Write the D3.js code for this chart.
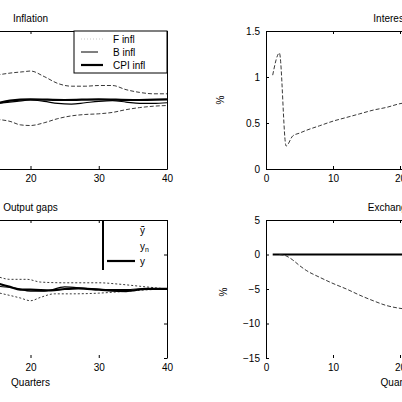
<!DOCTYPE html>
<html><head><meta charset="utf-8">
<script src="https://cdn.jsdelivr.net/npm/d3@7"></script>
<style>
html,body{margin:0;padding:0;background:#fff;}
svg{display:block;font-family:"Liberation Sans",Arial,sans-serif;}
</style></head>
<body>
<svg id="c" width="402" height="402"></svg>
<script>
// ---- Data ----
// Inflation panel
const inflT_F   = [15,17,19,20,22,24,26,28,30,32,34,36,38,40];
const inflF     = [0.36,0.39,0.41,0.42,0.34,0.24,0.20,0.20,0.21,0.21,0.15,0.11,0.09,0.09];
const inflT_X   = [15,17,18.5,20,22,24,26,28,30,32,34,36,38,40];
const inflX     = [-0.28,-0.31,-0.36,-0.37,-0.33,-0.27,-0.23,-0.21,-0.20,-0.18,-0.14,-0.11,-0.09,-0.08];
const inflT_B   = [15,18,20,22,24,26,28,30,32,34,36,38,40];
const inflB     = [-0.05,-0.02,0.0,-0.02,-0.05,-0.06,-0.04,-0.02,-0.01,-0.03,-0.05,-0.05,-0.04];
const inflT_C   = [15,17,20,25,30,35,40];
const inflC     = [-0.05,-0.01,0.01,0.0,0.01,0.0,0.01];
const inflLegend = ["F infl","B infl","CPI infl"];

// Interest rate panel
const rateT = [1,2,3,4,5,6,8,10,12,14,16,18,20,22];
const rate  = [1.02,1.26,0.25,0.36,0.39,0.42,0.47,0.52,0.56,0.60,0.64,0.67,0.71,0.73];
const rateYTicks = [0,0.5,1,1.5];

// Output gaps panel
const gapT_Y  = [15.5,17,18.5,20,23,25,27,30,34,37,40];
const gapY    = [0.07,0.03,-0.01,-0.01,-0.02,0,0.01,-0.01,-0.03,0,0];
const gapT_N  = [15,18,20,22,25,28,31,34,37,40];
const gapN    = [0.04,0.01,-0.03,-0.03,0.03,0.01,-0.01,-0.01,0.01,0.01];
const gapT_U  = [15.5,17,19.5,21.5,25,28,30,33,36,40];
const gapU    = [0.17,0.14,0.14,0.10,0.09,0.09,0.09,0.07,0.04,0];
const gapT_L  = [15.5,18.5,20,21.5,23.5,26,30,33,37.5,40];
const gapL    = [-0.06,-0.13,-0.17,-0.12,-0.07,-0.07,-0.06,-0.04,-0.01,0];
const gapYTicks = [-1,-0.5,0,0.5,1];

// Exchange rate panel
const exT_0 = [1,40];
const ex0   = [0,0];
const exT   = [2,3,4,5,6,8,10,12,14,16,18,20,22];
const ex    = [0,-0.2,-0.8,-1.6,-2.3,-3.3,-4.2,-5.0,-5.9,-6.7,-7.4,-7.8,-8.0];
const exYTicks = [-15,-10,-5,0,5];

const xTicks = [0,10,20,30,40];

// ---- Drawing ----
const W = 402;
const svg = d3.select("#c");
const zip = (t,v)=>t.map((d,i)=>[d,v[i]]);
let clipId = 0;
const fmt = d3.format("~g");

function panel(o){
  const x = d3.scaleLinear().domain([0,40]).range([o.x0,o.x1]);
  const y = d3.scaleLinear().domain(o.yd).range([o.y1,o.y0]);
  const g = svg.append("g");
  const id = "clip"+(clipId++);
  svg.append("clipPath").attr("id",id).append("rect")
    .attr("x",o.x0).attr("y",o.y0).attr("width",o.x1-o.x0).attr("height",o.y1-o.y0);
  const plot = g.append("g").attr("clip-path",`url(#${id})`);
  const line = d3.line().x(d=>x(d[0])).y(d=>y(d[1])).curve(d3.curveMonotoneX);
  o.series.forEach(s=>{
    plot.append("path").datum(zip(s.t,s.v))
      .attr("d",line).attr("fill","none")
      .attr("stroke",s.c||"#000").attr("stroke-width",s.w)
      .attr("stroke-dasharray",s.dash||null);
  });
  // only label ticks that fall (at least partly) inside the picture
  const visX = v => { const p = x(v); return p > -8 && p < W + 8; };
  const xFmt = v => visX(v) ? fmt(v) : "";
  const yFmt = v => (o.x0 > 20) ? fmt(v) : "";
  const yT = o.yTicks||[];
  const bottom = d3.axisBottom(x).tickValues(xTicks).tickSizeInner(-3).tickSizeOuter(0).tickPadding(6).tickFormat(xFmt);
  const top = d3.axisTop(x).tickValues(xTicks).tickSizeInner(-3).tickSizeOuter(0).tickFormat("");
  const left = d3.axisLeft(y).tickValues(yT).tickSizeInner(-3).tickSizeOuter(0).tickPadding(6).tickFormat(yFmt);
  const right = d3.axisRight(y).tickValues(yT).tickSizeInner(-3).tickSizeOuter(0).tickFormat("");
  const gb = g.append("g").attr("transform",`translate(0,${o.y1})`).call(bottom);
  const gt = g.append("g").attr("transform",`translate(0,${o.y0})`).call(top);
  const gl = g.append("g").attr("transform",`translate(${o.x0},0)`).call(left);
  const gr = g.append("g").attr("transform",`translate(${o.x1},0)`).call(right);
  if(o.noBottomLine) gb.select(".domain").remove();
  [gb,gt,gl,gr].forEach(a=>{
    a.selectAll("text").filter(function(){return this.textContent==="";}).remove();
    a.selectAll("text").attr("font-size",10).attr("fill","#000").attr("font-family","Liberation Sans, Arial, sans-serif");
    a.selectAll("line").attr("stroke","#000");
    a.select(".domain").attr("stroke","#000");
  });
  const cx = (o.x0+o.x1)/2;
  g.append("text").attr("x",cx).attr("y",o.y0-9).attr("text-anchor","middle")
    .attr("font-size",10).text(o.title);
  if(o.xlabel) g.append("text").attr("x",cx).attr("y",o.y1+28).attr("text-anchor","middle")
    .attr("font-size",10).text(o.xlabel);
  if(o.ylabel) g.append("text").attr("transform",`translate(${o.x0-42+(o.ylx||0)},${(o.y0+o.y1)/2+(o.yly||0)}) rotate(-90)`)
    .attr("text-anchor","middle").attr("font-size",10).text(o.ylabel);
  return {x,y,g};
}

panel({x0:-106,x1:167,y0:31,y1:169,yd:[-1,1],title:"Inflation",
  series:[
    {t:inflT_F,v:inflF,w:0.9,dash:"4,2",c:"#222"},
    {t:inflT_X,v:inflX,w:0.9,dash:"4,2",c:"#222"},
    {t:inflT_B,v:inflB,w:1.2},
    {t:inflT_C,v:inflC,w:2.2}
  ]});
panel({x0:266,x1:534,y0:31,y1:169,yd:[0,1.5],yTicks:rateYTicks,title:"Interest rate",ylabel:"%",
  series:[{t:rateT,v:rate,w:0.9,dash:"4,2",c:"#222"}]});
panel({x0:-106,x1:167,y0:220,y1:358,yd:[-1,1],yTicks:gapYTicks,title:"Output gaps",xlabel:"Quarters",noBottomLine:true,
  series:[
    {t:gapT_U,v:gapU,w:0.9,dash:"2,2",c:"#222"},
    {t:gapT_L,v:gapL,w:0.9,dash:"2,2",c:"#222"},
    {t:gapT_N,v:gapN,w:1.2},
    {t:gapT_Y,v:gapY,w:2.2}
  ]});
panel({x0:266,x1:534,y0:220,y1:358,yd:[-15,5],yTicks:exYTicks,title:"Exchange rate",ylabel:"%",ylx:3,yly:3,xlabel:"Quarters",noBottomLine:true,
  series:[
    {t:exT_0,v:ex0,w:2.2},
    {t:exT,v:ex,w:0.9,dash:"4,2",c:"#222"}
  ]});

// Legend: Inflation
(function(){
  const lg = svg.append("g");
  lg.append("rect").attr("x",74).attr("y",31).attr("width",93).attr("height",42)
    .attr("fill","#fff").attr("stroke","#000").attr("stroke-width",1);
  const styles=[{w:0.8,dash:"1,2",c:"#bbb",x2:103},{w:1,x2:98},{w:2.2,x2:103}];
  inflLegend.forEach((s,i)=>{
    const yy = 39 + i*13;
    lg.append("line").attr("x1",81).attr("x2",styles[i].x2).attr("y1",yy).attr("y2",yy)
      .attr("stroke",styles[i].c||"#000").attr("stroke-width",styles[i].w).attr("stroke-dasharray",styles[i].dash||null);
    lg.append("text").attr("x",113).attr("y",yy+3.5).attr("font-size",10).text(s);
  });
})();
// Legend: Output gaps
(function(){
  const lg = svg.append("g");
  lg.append("line").attr("x1",103).attr("x2",103).attr("y1",220).attr("y2",270)
    .attr("stroke","#000").attr("stroke-width",2);
  const rows=[230,246,261];
  lg.append("line").attr("x1",107).attr("x2",135).attr("y1",261).attr("y2",261)
    .attr("stroke","#000").attr("stroke-width",2.2);
  lg.append("text").attr("x",140).attr("y",rows[0]+3.5).attr("font-size",10).text("ỹ");
  const t1 = lg.append("text").attr("x",140).attr("y",rows[1]+3.5).attr("font-size",10).text("y");
  t1.append("tspan").attr("font-size",7).attr("dy",2).text("n");
  lg.append("text").attr("x",140).attr("y",rows[2]+3.5).attr("font-size",10).text("y");
})();
</script>
</body></html>
